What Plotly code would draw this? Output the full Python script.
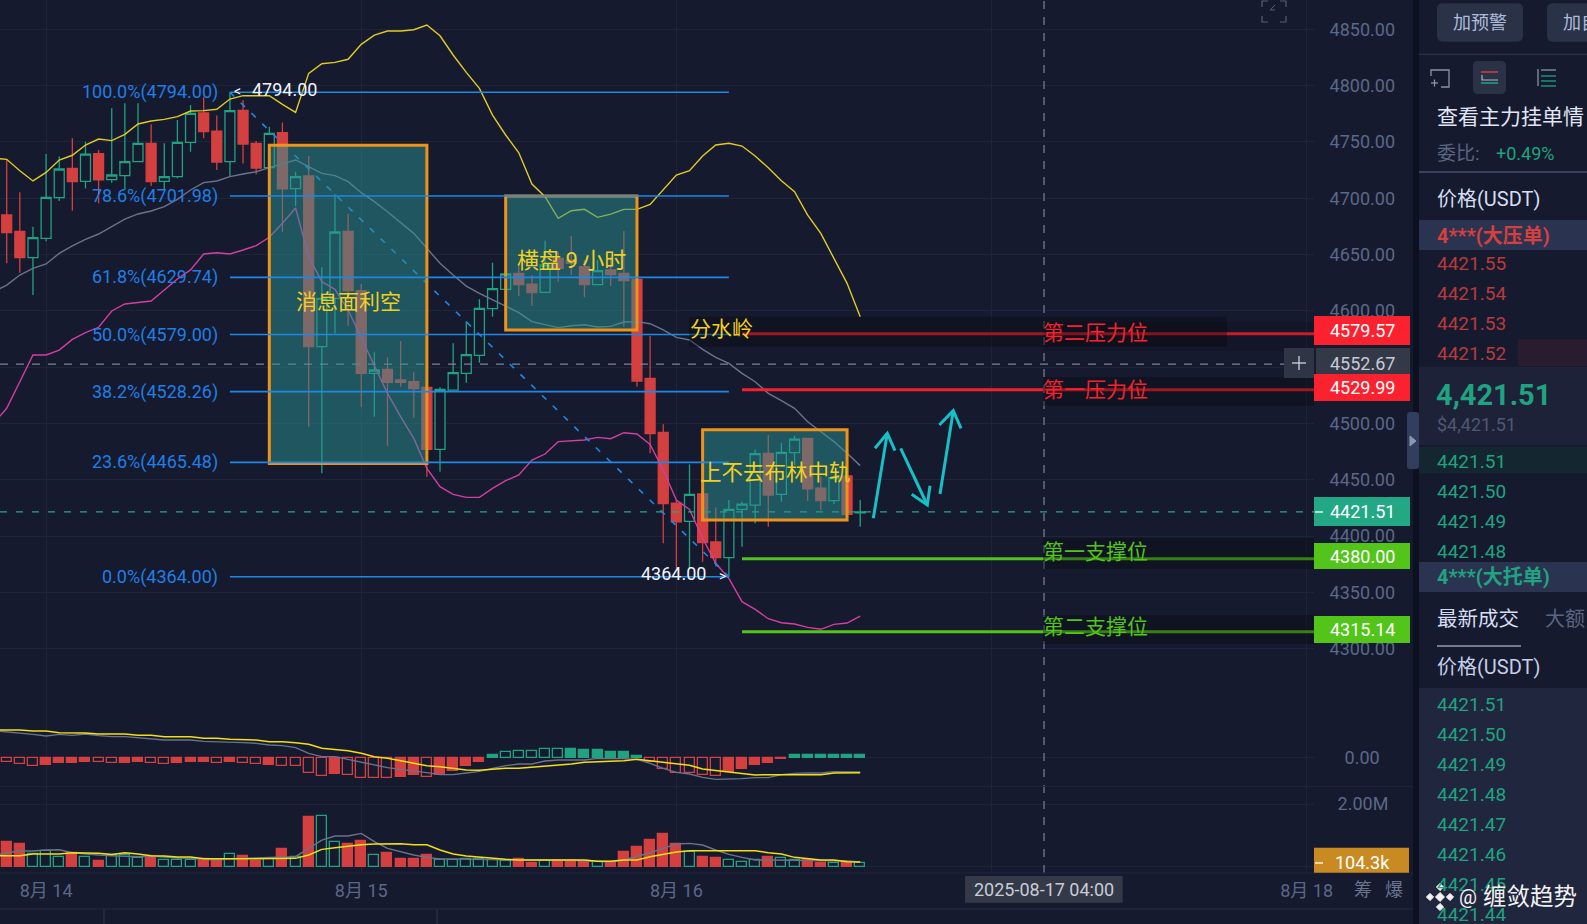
import pandas as pd
import plotly.graph_objects as go

W, H = 1587, 924
BG = "#161a2e"
GRID = "#1f2439"
RED = "#d43f3f"
GREEN = "#1fa380"
BLUE = "#1e88e5"
YEL_TXT = "#f2d01e"
TICK = "#5a6888"
CN = "Roboto, 'Noto Sans CJK SC', sans-serif"

# ---- data ----
times = pd.date_range("2025-08-13 21:00", periods=66, freq="h")
line_times = pd.date_range("2025-08-13 20:00", periods=67, freq="h")

opens = [4685.1,4670.6,4647.2,4664.4,4700.5,4726.5,4715.0,4739.5,4716.4,4720.0,4732.4,4748.7,4715.0,4719.1,4749.6,4775.6,4759.6,4732.4,4778.0,4748.7,4727.1,4758.2,4708.5,4719.7,4568.2,4611.1,4670.6,4617.9,4544.5,4548.1,4538.6,4537.1,4532.1,4477.0,4529.7,4544.5,4560.5,4601.9,4619.1,4633.3,4623.8,4616.4,4646.6,4645.1,4639.2,4623.2,4636.3,4633.3,4628.0,4540.1,4492.2,4429.4,4413.1,4437.4,4394.8,4380.9,4423.8,4427.6,4473.5,4437.1,4474.1,4486.8,4442.7,4431.5,4453.4,4420.7]
highs = [4734.5,4705.2,4674.7,4739.2,4736.9,4753.1,4750.2,4742.8,4779.8,4784.2,4784.2,4765.6,4748.7,4769.4,4782.7,4789.5,4773.3,4794.0,4787.2,4750.8,4763.5,4767.3,4723.5,4737.4,4638.6,4703.7,4686.0,4623.8,4563.2,4558.7,4573.2,4545.4,4532.1,4532.1,4571.2,4590.7,4610.2,4642.8,4648.7,4642.2,4631.8,4662.3,4652.5,4666.4,4645.1,4645.1,4648.1,4670.9,4628.0,4577.7,4499.3,4432.1,4463.7,4445.4,4425.6,4432.1,4430.6,4477.0,4489.8,4483.0,4488.9,4486.8,4452.8,4451.9,4453.4,4432.1]
lows = [4642.2,4633.9,4614.1,4661.7,4697.5,4688.9,4708.7,4695.4,4713.8,4707.3,4732.4,4710.8,4707.3,4717.6,4741.3,4753.1,4725.0,4719.1,4730.9,4721.2,4727.1,4670.3,4693.1,4497.2,4455.8,4580.0,4586.8,4514.9,4506.1,4480.0,4532.7,4505.2,4452.8,4457.2,4529.7,4536.2,4554.0,4594.8,4612.0,4613.2,4604.3,4616.4,4625.9,4631.8,4612.0,4623.2,4622.0,4585.9,4532.7,4473.5,4393.6,4371.4,4371.4,4377.3,4373.0,4364.0,4390.6,4411.4,4408.4,4430.6,4463.1,4431.2,4423.2,4428.5,4418.8,4408.4]
closes = [4669.4,4647.2,4665.0,4700.8,4725.9,4714.7,4739.2,4716.2,4720.6,4732.4,4748.7,4714.7,4719.1,4749.6,4775.3,4759.1,4732.1,4777.7,4748.1,4726.8,4757.6,4708.2,4719.1,4568.2,4611.1,4670.0,4617.9,4544.5,4547.5,4536.5,4536.5,4530.9,4477.0,4530.3,4545.1,4561.1,4602.2,4619.7,4632.7,4623.2,4616.1,4640.7,4637.7,4642.2,4623.2,4635.7,4632.1,4626.8,4537.7,4491.0,4428.8,4412.8,4437.1,4394.2,4380.9,4423.8,4428.5,4473.2,4436.5,4474.4,4486.2,4441.9,4431.5,4451.9,4419.4,4421.51]

boll_upper = [4735.4,4734.5,4724.4,4715.3,4722.9,4733.9,4738.1,4747.2,4752.5,4751.1,4756.7,4765.9,4768.5,4770.0,4772.4,4777.4,4777.7,4778.9,4788.0,4791.0,4791.0,4791.0,4783.3,4776.2,4810.8,4819.4,4820.6,4823.3,4836.6,4844.8,4848.4,4848.4,4849.5,4853.7,4844.2,4827.1,4811.7,4797.5,4773.8,4756.1,4740.3,4712.6,4701.3,4682.1,4688.9,4690.1,4683.0,4685.9,4690.1,4690.1,4694.5,4707.2,4720.5,4724.4,4737.4,4747.2,4748.7,4746.3,4737.4,4727.0,4715.5,4705.7,4685.0,4668.8,4646.6,4624.4,4594.8]
boll_mid = [4617.0,4622.9,4631.8,4637.7,4641.6,4651.0,4657.6,4663.5,4668.2,4674.7,4681.5,4686.0,4688.6,4692.5,4699.0,4707.3,4713.8,4715.3,4719.1,4721.5,4723.5,4727.1,4730.4,4733.9,4728.0,4722.0,4720.0,4714.7,4704.9,4696.9,4688.0,4678.3,4668.8,4655.5,4642.2,4631.8,4622.0,4615.5,4609.6,4604.3,4598.4,4590.4,4588.0,4585.1,4586.8,4587.7,4585.7,4586.2,4590.1,4590.4,4588.6,4583.0,4576.5,4574.1,4565.8,4558.7,4553.4,4544.5,4537.1,4526.8,4520.3,4513.5,4501.6,4492.8,4483.9,4473.5,4462.6]
boll_lower = [4500.1,4513.5,4537.1,4560.8,4560.8,4565.2,4574.7,4580.6,4585.4,4599.9,4606.1,4607.6,4608.7,4618.5,4628.3,4636.3,4650.5,4651.6,4650.5,4654.0,4657.9,4665.3,4677.7,4691.3,4648.1,4625.9,4619.1,4600.7,4575.6,4550.4,4526.8,4506.1,4486.8,4460.2,4443.9,4437.1,4434.4,4434.4,4442.4,4449.2,4454.3,4467.6,4472.9,4483.9,4484.8,4485.3,4487.7,4486.5,4491.8,4490.7,4481.5,4458.7,4432.1,4423.8,4398.1,4375.9,4362.5,4341.8,4335.0,4326.7,4323.1,4322.0,4319.0,4317.3,4321.7,4322.9,4329.1]

macd_hist = [-6,-10,-13,-11,-8.5,-8.5,-6,-6,-8,-8.5,-6,-8,-10,-8.5,-6,-6,-8,-6,-8,-10,-10.5,-12.5,-12.5,-23.5,-28,-24,-26.5,-30.5,-30.5,-30.5,-28.5,-26.5,-28.5,-26,-19.5,-12.5,-6,4,8.5,10.5,10.5,12.5,13,13.5,11.5,11.5,9,9,2.5,-6,-17.5,-23.5,-22.5,-26,-27,-21,-17.5,-11,-8.5,-2,4.5,4.5,4.5,4.5,4.5,4.5]
macd_hollow = [1,1,1,0,0,0,0,1,1,0,0,1,1,0,0,0,1,0,1,1,0,1,1,1,1,0,1,1,1,1,0,0,1,0,0,0,0,0,1,1,1,1,1,0,0,0,0,0,0,1,1,1,1,1,1,0,0,0,0,0,0,0,0,0,0,0]
macd_dif = [40.5,39,37,35,32.5,35,33.5,35.5,33,31.5,31.5,30,27.5,26.5,26.5,26.5,24.5,24,24,22.5,21.5,19,18,15,6.5,1.5,1.5,-2.5,-7,-11,-15,-17.5,-19.5,-22.5,-25.5,-25.5,-23,-20.5,-16,-12,-9.5,-9.5,-5,-3.5,-3.5,-3.5,-1,-1,-1.5,-2.5,-8.5,-16,-22,-24.5,-29.5,-32.5,-32.5,-31.5,-30,-30,-25.5,-23.5,-23,-23,-21,-21,-21.5]
macd_dea = [41.5,41.5,41.5,40,40,37.5,37.5,37,35.5,35.5,35.5,33.5,33.5,31.5,31.5,31.5,29,29,27.5,26.5,26.5,24,24,22.5,20,14,12.5,10.5,6.5,1.5,-1,-5,-8.5,-12,-13.5,-16,-18.5,-19,-17.5,-16,-16,-14.5,-12,-11.5,-9.5,-7,-6.5,-5,-4.5,-2.5,-5,-7.5,-9.5,-11.5,-17,-19.5,-22,-24.5,-26,-25.5,-26,-25.5,-25.5,-25.5,-23,-22.5,-22.5]

volume_k = [797,712,393,510,319,425,319,181,361,372,287,298,213,202,213,234,213,415,330,181,234,563,298,1573,1605,787,712,808,361,425,234,234,372,213,213,244,244,213,170,244,128,181,191,181,181,138,159,468,617,850,1042,723,478,319,276,213,159,213,319,266,213,213,128,128,138,104.3]
vol_ma_a = [351,446,500,500,532,542,446,404,372,351,340,319,340,298,276,266,244,213,255,266,276,298,319,319,585,850,978,978,1063,797,585,478,372,298,244,244,234,234,213,213,213,213,213,213,213,181,159,159,213,319,446,585,723,744,691,532,393,298,213,213,213,213,213,191,191,181,149]
vol_ma_b = [351,361,351,404,404,404,446,446,425,393,446,404,351,340,308,308,255,255,244,255,255,266,266,266,372,553,606,659,702,723,733,733,702,702,532,404,340,298,255,234,213,213,213,213,213,213,170,170,213,213,319,404,468,510,510,510,510,510,510,446,404,298,244,213,213,159,149]

day_ticks = ["2025-08-14", "2025-08-15", "2025-08-16", "2025-08-17", "2025-08-18"]
day_labels = ["8月 14", "8月 15", "8月 16", "8月 17", "8月 18"]
price_ticks = [4300, 4350, 4400, 4450, 4500, 4550, 4600, 4650, 4700, 4750, 4800, 4850]

fib_pct = ["100.0%", "78.6%", "61.8%", "50.0%", "38.2%", "23.6%", "0.0%"]
fib_levels = [4794.00, 4701.98, 4629.74, 4579.00, 4528.26, 4465.48, 4364.00]
fib_start, fib_end = "2025-08-14 14:00", "2025-08-16 04:00"

levels = [4579.57, 4529.99, 4380.00, 4315.14]
level_names = ["第二压力位", "第一压力位", "第一支撑位", "第二支撑位"]
level_colors = ["#f5222d", "#f5222d", "#52c41a", "#52c41a"]

boxes = [("2025-08-14 17:00", "2025-08-15 05:00", 4746.9, 4464.6),
         ("2025-08-15 11:00", "2025-08-15 21:00", 4702.0, 4583.0),
         ("2025-08-16 02:00", "2025-08-16 13:00", 4494.5, 4414.3)]
last_price = 4421.51
cross_price = 4552.67
cross_time = "2025-08-17 04:00"
x_start, x_end = "2025-08-13 20:29:24", "2025-08-18 00:33:36"

ask_rows = ["4421.55", "4421.54", "4421.53", "4421.52"]
bid_rows = ["4421.51", "4421.50", "4421.49", "4421.48"]
trade_rows = ["4421.51", "4421.50", "4421.49", "4421.48", "4421.47", "4421.46", "4421.45", "4421.44"]

# ---- helpers ----
X = lambda px: px / W
Y = lambda py: 1 - py / H
shapes, notes = [], []


def rect(x0, y0, x1, y1, fill, line=None, lw=0):
    shapes.append(dict(type="rect", xref="paper", yref="paper", x0=X(x0), x1=X(x1), y0=Y(y0), y1=Y(y1),
                       fillcolor=fill, line=dict(color=line or "rgba(0,0,0,0)", width=lw)))


def poly(pts, color, lw=2, fill=None, close=False):
    d = "M" + " L".join(f"{X(a):.5f},{Y(b):.5f}" for a, b in pts) + (" Z" if close else "")
    shapes.append(dict(type="path", xref="paper", yref="paper", path=d, fillcolor=fill,
                       line=dict(color=color, width=lw)))


def rrect(x0, y0, x1, y1, r, fill):
    p = lambda a, b: f"{X(a):.5f},{Y(b):.5f}"
    d = (f"M{p(x0+r,y0)} L{p(x1-r,y0)} Q{p(x1,y0)} {p(x1,y0+r)} L{p(x1,y1-r)} Q{p(x1,y1)} {p(x1-r,y1)} "
         f"L{p(x0+r,y1)} Q{p(x0,y1)} {p(x0,y1-r)} L{p(x0,y0+r)} Q{p(x0,y0)} {p(x0+r,y0)} Z")
    shapes.append(dict(type="path", xref="paper", yref="paper", path=d, fillcolor=fill,
                       line=dict(color="rgba(0,0,0,0)", width=0)))


def label(text, px, py, size, color, anchor="left", bold=False, yref=None, yval=None, font=CN):
    # annotation boxes carry about 3px of padding on their anchored side
    if anchor == "left":
        px -= 3
    elif anchor == "right":
        px += 3
    notes.append(dict(text=f"<b>{text}</b>" if bold else text, xref="paper", x=X(px),
                      yref=yref or "paper", y=yval if yref else Y(py),
                      xanchor=anchor, yanchor="middle", showarrow=False,
                      font=dict(size=size, color=color, family=font)))


# ---- traces ----
fig = go.Figure()
candle_hollow = BG
fig.add_trace(go.Candlestick(x=times, open=opens, high=highs, low=lows, close=closes,
                             increasing=dict(line=dict(color=GREEN, width=1.3), fillcolor=candle_hollow),
                             decreasing=dict(line=dict(color=RED, width=1.3), fillcolor=RED),
                             whiskerwidth=0, hoverinfo="skip", showlegend=False))
for series, col in ((boll_upper, "#e2cb22"), (boll_mid, "#6a738c"), (boll_lower, "#d23fa2")):
    fig.add_trace(go.Scatter(x=line_times, y=series, mode="lines", line=dict(color=col, width=1.4),
                             hoverinfo="skip", showlegend=False))

bar_w = 2.74e6
m_col = [GREEN if v > 0 else RED for v in macd_hist]
m_fill = [BG if h else c for h, c in zip(macd_hollow, m_col)]
fig.add_trace(go.Bar(x=times, y=macd_hist, width=bar_w, yaxis="y2",
                     marker=dict(color=m_fill, line=dict(color=m_col, width=1.3)),
                     hoverinfo="skip", showlegend=False))
fig.add_trace(go.Scatter(x=line_times, y=macd_dif, yaxis="y2", mode="lines", line=dict(color="#6a738c", width=1.4),
                         hoverinfo="skip", showlegend=False))
fig.add_trace(go.Scatter(x=line_times, y=macd_dea, yaxis="y2", mode="lines", line=dict(color="#f2e012", width=1.5),
                         hoverinfo="skip", showlegend=False))

v_col = [GREEN if c >= o else RED for o, c in zip(opens, closes)]
v_fill = [BG if c >= o else RED for o, c in zip(opens, closes)]
fig.add_trace(go.Bar(x=times, y=volume_k, width=bar_w, yaxis="y3",
                     marker=dict(color=v_fill, line=dict(color=v_col, width=1.3)),
                     hoverinfo="skip", showlegend=False))
fig.add_trace(go.Scatter(x=line_times, y=vol_ma_a, yaxis="y3", mode="lines", line=dict(color="#6a738c", width=1.4),
                         hoverinfo="skip", showlegend=False))
fig.add_trace(go.Scatter(x=line_times, y=vol_ma_b, yaxis="y3", mode="lines", line=dict(color="#f2e012", width=1.5),
                         hoverinfo="skip", showlegend=False))
# fib diagonal
fig.add_trace(go.Scatter(x=[fib_start, fib_end], y=[fib_levels[0], fib_levels[-1]], mode="lines",
                         line=dict(color=BLUE, width=1.6, dash="6px,9px"), hoverinfo="skip", showlegend=False))

# ---- crosshair / price line under annotations ----
shapes.append(dict(type="line", xref="paper", yref="y", x0=0, x1=X(1284), y0=cross_price, y1=cross_price,
                   line=dict(color="#7b8294", width=1.2, dash="8px,8px")))
shapes.append(dict(type="line", xref="paper", yref="y", x0=0, x1=X(1314), y0=last_price, y1=last_price,
                   line=dict(color="#22a884", width=1.2, dash="7px,9px")))
shapes.append(dict(type="line", xref="x", yref="paper", x0=cross_time, x1=cross_time, y0=Y(873), y1=1,
                   line=dict(color="#7b8294", width=1.2, dash="8px,8px")))

# boxes
for x0, x1, top, bot in boxes:
    shapes.append(dict(type="rect", xref="x", yref="y", x0=x0, x1=x1, y0=bot, y1=top,
                       fillcolor="rgba(42,146,146,0.5)", line=dict(color="#ee9318", width=3)))
# fib lines
for lv in fib_levels:
    shapes.append(dict(type="line", xref="x", yref="y", x0=fib_start, x1=fib_end, y0=lv, y1=lv,
                       line=dict(color=BLUE, width=1.6)))
# level lines and dark bands
for lv, col in zip(levels, level_colors):
    shapes.append(dict(type="line", xref="x", yref="y", x0="2025-08-16 05:00", x1=x_end, y0=lv, y1=lv,
                       line=dict(color=col, width=3)))
band = "rgba(6,7,14,0.36)"
rect(689, 316.7, 1227, 346.7, band)
rect(1043, 321.7, 1314, 351, "rgba(6,7,14,0.18)")
rect(1043, 377, 1314, 406, band)
rect(1043, 538, 1314, 569, band)
rect(1043, 615, 1314, 644, band)

# pane separators
for py in (786.5, 873):
    poly([(0, py), (1413, py)], GRID, 1.2)
poly([(0, 909), (1413, 909)], "#232840", 1.2)
poly([(104, 909), (104, 924)], "#2b3150", 1.2)
poly([(437, 909), (437, 924)], "#2b3150", 1.2)

# fullscreen icon
for pts in ([(1262, 7), (1262, 1), (1268, 1)], [(1280, 1), (1286, 1), (1286, 7)],
            [(1262, 16), (1262, 22), (1268, 22)], [(1280, 22), (1286, 22), (1286, 16)]):
    poly(pts, "#545d75", 1.2)
poly([(1275, 5), (1270, 10), (1275, 10)], "#545d75", 1)

# arrows
for shaft, head in (([(873.3, 518.3), (887.3, 433.3)], [(875, 448.3), (887.3, 433.3), (895, 450.7)]),
                    ([(900.7, 448.3), (927.3, 505)], [(911.7, 494.3), (927.3, 505), (930, 485.7)]),
                    ([(940, 494), (953.3, 410.7)], [(939.3, 425), (953.3, 410.7), (961, 428.3)])):
    poly(shaft, "#17c0c6", 3)
    poly(head, "#17c0c6", 3)

# price flags
flag_rows = [(316, 345, "#fb2230", "4579.57"), (374, 401, "#fb2230", "4529.99"),
             (497, 526, "#22a884", "4421.51"), (543, 569, "#52c41a", "4380.00"), (616, 643, "#52c41a", "4315.14")]
rect(1284, 348, 1314, 378, "#2f3545")
rect(1316, 348, 1410, 378, "#333947")
poly([(1292, 363), (1306, 363)], "#cfd3de", 1.3)
poly([(1299, 356), (1299, 370)], "#cfd3de", 1.3)
for y0, y1, col, txt in flag_rows:
    rect(1314, y0, 1410, y1, col)
    label(txt, 1362, (y0 + y1) / 2, 18, "#ffffff", "center")
label(f"{cross_price:.2f}", 1362, 363.5, 18, "#c6cad6", "center")
poly([(1315, 512), (1323, 512)], "#ffffff", 1.3)
rect(1314, 847.7, 1409, 872.7, "#c98a22")
poly([(1315, 863), (1323, 863)], "#ffffff", 1.3)
label("104.3k", 1362, 862.5, 18, "#ffffff", "center")

# time box
rect(965, 876, 1122.7, 902.7, "#333947")
label(cross_time, 1044, 889, 18, "#c8ccd8", "center")
label("筹", 1362.5, 889, 18, "#6a7590", "center")
label("爆", 1394, 889, 18, "#6a7590", "center")

# chart texts
for pct, lv in zip(fib_pct, fib_levels):
    label(f"{pct}({lv:.2f})", 217, 0, 18, "#1f7fe6", "right", yref="y", yval=lv)
label("4794.00", 253, 89, 18, "#f2f4fa")
label("<", 235, 91, 14, "#f2f4fa")
label("4364.00", 642, 573, 18, "#f2f4fa")
label(">", 720, 576, 14, "#f2f4fa")
label("消息面利空", 348, 301.7, 21, YEL_TXT, "center")
label("横盘\u20099\u2009小时", 571.5, 260, 22, YEL_TXT, "center")
label("上不去布林中轨", 775.5, 472, 21.5, YEL_TXT, "center")
label("分水岭", 721, 329, 21, YEL_TXT, "center")
for name, py, col in zip(level_names, (333, 390, 552, 627), level_colors):
    label(name, 1044, py, 21, col)

# ---- side panel ----
rect(1413, 0, 1419, 924, "#0d1020")
rect(1419, 0, W, 924, BG)
rrect(1437, 3.3, 1523, 41.7, 6, "#2a3248")
rect(1553, 3.3, W, 41.7, "#2a3248")
rrect(1547, 3.3, 1560, 41.7, 6, "#2a3248")
label("加预警", 1480, 23, 18, "#aebcdc", "center")
label("加自", 1564, 23, 18, "#aebcdc")
poly([(1419, 54.3), (W, 54.3)], "#2a3248", 1.2)
poly([(1436, 70), (1449, 70), (1449, 87), (1441, 87)], "#8a93a8", 1.3)
poly([(1431, 76), (1431, 70), (1436, 70)], "#8a93a8", 1.3)
poly([(1431, 83), (1438, 83)], "#8a93a8", 1.3)
poly([(1434.5, 79.5), (1434.5, 86.5)], "#8a93a8", 1.3)
rrect(1473, 61, 1506, 94, 5, "#2a3248")
poly([(1481, 72), (1498, 72)], "#d43f3f", 1.5)
poly([(1481, 83), (1498, 83)], GREEN, 1.5)
poly([(1482, 75), (1482, 80), (1498, 80)], "#aeb6c8", 1.2)
poly([(1538, 69), (1538, 86)], "#8a93a8", 1.3)
for py in (70, 76, 81, 86):
    poly([(1541, py), (1556, py)], GREEN if py > 74 else "#8a93a8", 1.3)

label("查看主力挂单情", 1437.5, 116.7, 21, "#e0e6f5")
label("委比:", 1437.5, 154, 19, "#5a6480")
label("+0.49%", 1497, 154, 18, GREEN)
poly([(1419, 172), (W, 172)], "#3a4060", 2)
label("价格(USDT)", 1437.5, 199, 20, "#d5def2")
rect(1419, 220, W, 250, "#2a3350")
label("4***(大压单)", 1437.5, 235.5, 20, RED, bold=True)
rect(1518, 339, W, 366, "#2a1c30")
for i, t in enumerate(ask_rows):
    label(t, 1437.5, 263.3 + 30 * i, 19, "#b93a3c")
rect(1419, 367, W, 445, "#1d2238")
label("4,421.51", 1437, 395, 29, GREEN, bold=True)
label("$4,421.51", 1437.5, 425, 18, "#4f5870")
rect(1419, 447, W, 473, "#14262f")
for i, t in enumerate(bid_rows):
    label(t, 1437.5, 461 + 30 * i, 19, GREEN)
rect(1419, 562, W, 592, "#2a3350")
label("4***(大托单)", 1437.5, 577, 20, GREEN, bold=True)
label("最新成交", 1437.5, 619, 20.5, "#d5def2")
label("大额", 1546, 619, 20, "#5a6480")
poly([(1437, 646), (1521, 646)], "#d5def2", 1.2)
label("价格(USDT)", 1437.5, 667, 20, "#c5cfe8")
rect(1419, 688, W, 924, "#21263f")
for i, t in enumerate(trade_rows):
    label(t, 1437.5, 704 + 30 * i, 19, GREEN)

# collapse tab
rrect(1407, 412, 1419, 469, 3, "#333d5e")
poly([(1410, 436), (1416, 441), (1410, 446)], "#8d97b5", 1, fill="#8d97b5", close=True)

# watermark
for cx, cy, r in ((1440, 897, 4.5), (1440, 887, 3.6), (1440, 907, 3.6), (1430, 897, 3.6), (1450, 897, 3.6)):
    poly([(cx, cy - r), (cx + r, cy), (cx, cy + r), (cx - r, cy)], "#f2f2f2", 1, fill="#f2f2f2", close=True)
label("@", 1460, 897, 20, "#f2f2f2")
label("缠敛趋势", 1484, 897, 23.5, "#f2f2f2")

axis_common = dict(showline=False, zeroline=False, side="right", anchor="x", ticks="outside",
                   tickcolor="rgba(0,0,0,0)", gridcolor=GRID, gridwidth=1, tickfont=dict(size=18, color=TICK, family=CN))

fig.update_layout(
    width=W, height=H, margin=dict(l=0, r=0, t=0, b=0, pad=0, autoexpand=False), autosize=False,
    paper_bgcolor=BG, plot_bgcolor=BG, showlegend=False, bargap=0,
    boxgap=0.05, boxgroupgap=0.2, hovermode=False,
    shapes=shapes, annotations=notes,
    xaxis=dict(domain=[0, 1314 / W], range=[x_start, x_end], type="date", anchor="y3",
               tickmode="array", tickvals=day_ticks, ticktext=day_labels, ticks="outside", ticklen=1,
               tickcolor="rgba(0,0,0,0)", showgrid=True, gridcolor=GRID, zeroline=False,
               tickfont=dict(size=18, color=TICK, family=CN), rangeslider=dict(visible=False), tickangle=0),
    yaxis=dict(domain=[Y(720), 1], range=[4236.8, 4875.93], tickmode="array", tickvals=price_ticks,
               ticktext=[f"{v:.2f}" for v in price_ticks], ticklen=11, **axis_common),
    yaxis2=dict(domain=[Y(786), Y(720)], range=[-42.5, 56.5], tickmode="array", tickvals=[0],
                ticktext=["0.00"], ticklen=26, **axis_common),
    yaxis3=dict(domain=[Y(873), Y(786)], range=[-201, 2574], tickmode="array", tickvals=[0, 2000],
                ticktext=["", "2.00M"], ticklen=19, **axis_common),
)

fig.write_html("out.html", config=dict(displayModeBar=False, responsive=False),
               post_script="document.documentElement.style.overflow='hidden';document.body.style.margin='0';document.body.style.overflow='hidden';document.body.style.background='" + BG + "';document.querySelectorAll('.svg-container').forEach(function(e){e.style.overflow='hidden';});")
